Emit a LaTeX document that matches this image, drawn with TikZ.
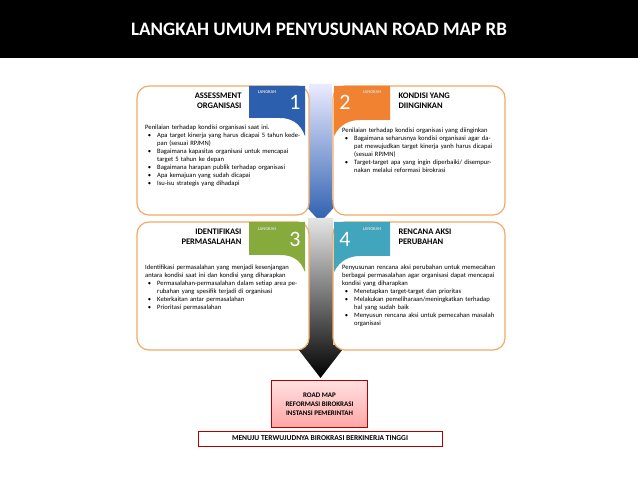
\documentclass[tikz,border=0pt]{standalone}
\usepackage{fontspec}
\setmainfont{Carlito}
\usetikzlibrary{shapes.geometric}
\definecolor{orb}{RGB}{240,170,100}
\definecolor{tb}{RGB}{45,95,175}
\definecolor{to}{RGB}{240,130,50}
\definecolor{tg}{RGB}{135,170,60}
\definecolor{tt}{RGB}{65,165,190}
\newcommand{\bitem}[1]{\par\hangindent=12pt\hangafter=0\noindent\llap{\textbullet\hspace{6pt}}#1\par}
\begin{document}
\begin{tikzpicture}[x=1pt,y=-1pt,
 card/.style={draw=orb,line width=1.2pt,rounded corners=12pt,fill=white},
 head/.style={font=\fontsize{8.5}{10.5}\selectfont\bfseries,align=right},
 body/.style={font=\fontsize{6.6}{7.9}\selectfont,align=left,text width=156pt,anchor=north west,inner sep=0pt},
 tabn/.style={font=\fontsize{22}{22}\selectfont,text=white},
 tabl/.style={font=\fontsize{4.5}{4.5}\selectfont\bfseries,text=white!85!black}]
\useasboundingbox (0,0) rectangle (638,478);
\fill[black] (0,0) rectangle (638,58);
\node[text=white,font=\fontsize{19}{19}\selectfont\bfseries] (title) at (319,29) {LANGKAH UMUM PENYUSUNAN ROAD MAP RB};
% arrows
\shade[top color=blue!8!white,bottom color=tb] (309,84) -- (332,84) -- (332,200) -- (341,200) -- (320.5,222) -- (300,200) -- (309,200) -- cycle;
\shade[top color=black!10,bottom color=black] (308,218) -- (333,218) -- (333,345) -- (346,345) -- (320.5,378) -- (295,345) -- (308,345) -- cycle;
% cards
\draw[card] (137,86) rectangle (309,215);
\draw[card] (333,86) rectangle (505,215);
\draw[card] (137,222) rectangle (309,350);
\draw[card] (333,222) rectangle (505,350);
% tabs
\fill[tb] (249,86) -- (305,86) -- (305,136) .. controls (300,122) and (290,118) .. (280,118) -- (249,118) -- cycle;
\fill[to] (334,86) -- (390,86) -- (390,120) -- (360,120) .. controls (350,120) and (340,124) .. (334,136) -- cycle;
\fill[tg] (249,222) -- (305,222) -- (305,272) .. controls (300,258) and (290,255) .. (280,255) -- (249,255) -- cycle;
\fill[tt] (334,222) -- (390,222) -- (390,256) -- (360,256) .. controls (350,256) and (340,260) .. (334,272) -- cycle;
\node[tabl] (l1) at (267,92) {LANGKAH};
\node[tabn] (n1) at (295,102) {1};
\node[tabl] (l2) at (372,92) {LANGKAH};
\node[tabn] (n2) at (345,102) {2};
\node[tabl] (l3) at (267,229) {LANGKAH};
\node[tabn] (n3) at (295,239) {3};
\node[tabl] (l4) at (372,229) {LANGKAH};
\node[tabn] (n4) at (345,239) {4};
% headers
\node[head,anchor=north east] (h1) at (245,89) {ASSESSMENT\\ORGANISASI};
\node[head,align=left,anchor=north west] (h2) at (395,89) {KONDISI YANG\\DIINGINKAN};
\node[head,anchor=north east] (h3) at (245,225) {IDENTIFIKASI\\PERMASALAHAN};
\node[head,align=left,anchor=north west] (h4) at (395,225) {RENCANA AKSI\\PERUBAHAN};
% bodies
\node[body] (b1) at (145,125) {Penilaian terhadap kondisi organisasi saat ini.
\bitem{Apa target kinerja yang harus dicapai 5 tahun kedepan (sesuai RPJMN)}
\bitem{Bagaimana kapasitas organisasi untuk mencapai target 5 tahun ke depan}
\bitem{Bagaimana harapan publik terhadap organisasi}
\bitem{Apa kemajuan yang sudah dicapai}
\bitem{Isu-isu strategis yang dihadapi}};
\node[body] (b2) at (342,128) {Penilaian terhadap kondisi organisasi yang diinginkan
\bitem{Bagaimana seharusnya kondisi organisasi agar dapat mewujudkan target kinerja yanh harus dicapai (sesuai RPJMN)}
\bitem{Target-target apa yang ingin diperbaiki/ disempurnakan melalui reformasi birokrasi}};
\node[body] (b3) at (145,265) {Identifikasi permasalahan yang menjadi kesenjangan antara kondisi saat ini dan kondisi yang diharapkan
\bitem{Permasalahan-permasalahan dalam setiap area perubahan yang spesifik terjadi di organisasi}
\bitem{Keterkaitan antar permasalahan}
\bitem{Prioritasi permasalahan}};
\node[body] (b4) at (342,265) {Penyusunan rencana aksi perubahan untuk memecahan berbagai permasalahan agar organisasi dapat mencapai kondisi yang diharapkan
\bitem{Menetapkan target-target dan prioritas}
\bitem{Melakukan pemeliharaan/meningkatkan terhadap hal yang sudah baik}
\bitem{Menyusun rencana aksi untuk pemecahan masalah organisasi}};
% road map
\node[draw=red!70!black,line width=1pt,top color=red!12,bottom color=red!35,minimum width=96pt,minimum height=47pt,align=center,font=\fontsize{7}{9}\selectfont\bfseries] (rm) at (319.5,404) {ROAD MAP\\REFORMASI BIROKRASI\\INSTANSI PEMERINTAH};
\node[draw=red!70!black,line width=0.8pt,minimum width=244pt,minimum height=15pt,font=\fontsize{7.5}{8}\selectfont\bfseries] (goal) at (320,438.5) {MENUJU TERWUJUDNYA BIROKRASI BERKINERJA TINGGI};
\end{tikzpicture}
\end{document}
